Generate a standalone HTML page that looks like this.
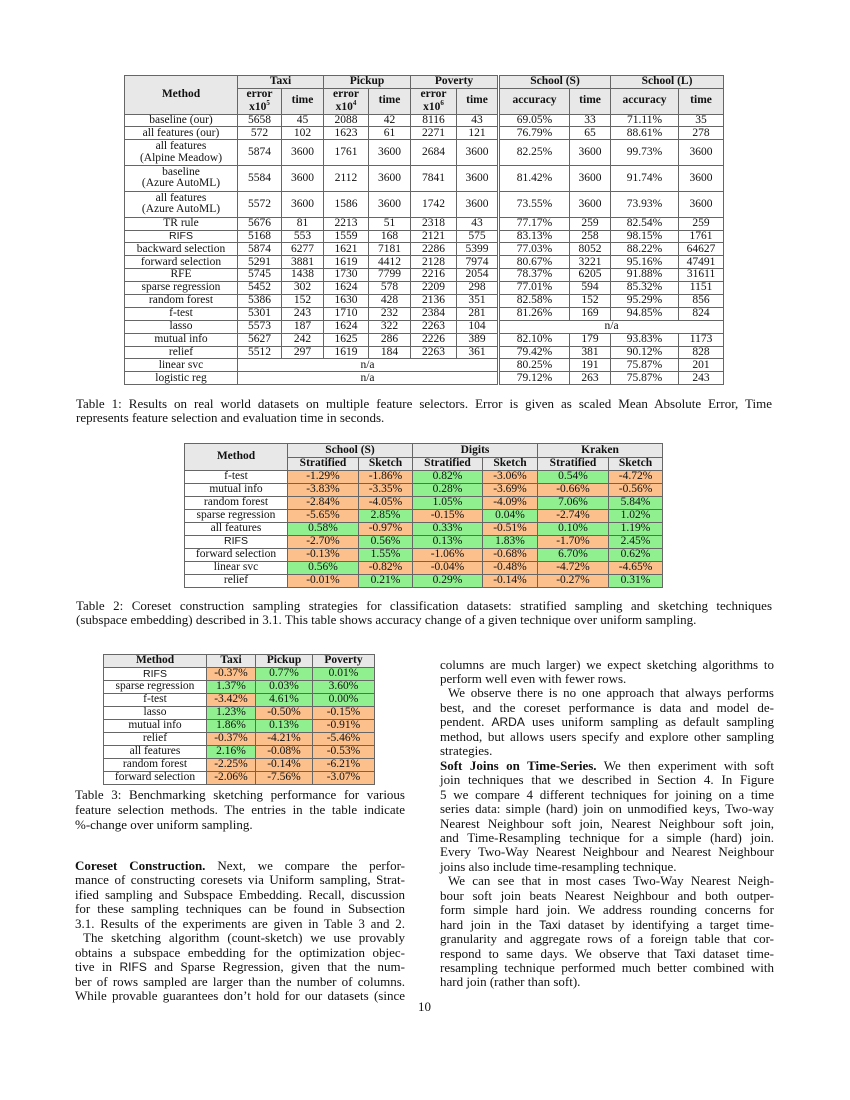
<!DOCTYPE html>
<html><head><meta charset="utf-8"><style>
body{margin:0;width:850px;height:1100px;background:#fff;position:relative;font-family:"Liberation Serif",serif;color:#111;overflow:hidden}
table{position:absolute;border-collapse:collapse;table-layout:fixed;font-size:11.5px;line-height:1}
td,th{border:1px solid #666;padding:0;text-align:center;overflow:hidden;white-space:nowrap}
th{background:#e8e8e8;font-weight:bold}
.g{background:#90f090}.o{background:#fbc08c}
.dl{border-left:3px double #666}
.sf{font-family:"Liberation Sans",sans-serif;font-size:10.5px}
.ln{position:absolute;font-size:13px;line-height:14px;white-space:nowrap}
.j{text-align:justify;text-align-last:justify;white-space:normal}
.cap{left:76px;width:696px}
.L{left:75px;width:330px}.R{left:440px;width:334px}
.t1 tr.s{height:12.9px}.t1 tr.d{height:25.8px}
.t2 tr.s{height:13px}
</style></head><body>

<table class="t1" style="left:124px;top:75px;width:599px">
<colgroup><col style="width:113px"><col style="width:44px"><col style="width:42px"><col style="width:45px"><col style="width:42px"><col style="width:46px"><col style="width:42px"><col style="width:71px"><col style="width:41px"><col style="width:68px"><col style="width:45px"></colgroup>
<tr style="height:12px"><th rowspan="2">Method</th><th colspan="2">Taxi</th><th colspan="2">Pickup</th><th colspan="2">Poverty</th><th colspan="2" class="dl">School (S)</th><th colspan="2">School (L)</th></tr>
<tr style="height:26px"><th>error<br>x10<sup style="font-size:7px">5</sup></th><th>time</th><th>error<br>x10<sup style="font-size:7px">4</sup></th><th>time</th><th>error<br>x10<sup style="font-size:7px">6</sup></th><th>time</th><th class="dl">accuracy</th><th>time</th><th>accuracy</th><th>time</th></tr>
<tr class="s"><td>baseline (our)</td><td>5658</td><td>45</td><td>2088</td><td>42</td><td>8116</td><td>43</td><td class="dl">69.05%</td><td>33</td><td>71.11%</td><td>35</td></tr>
<tr class="s"><td>all features (our)</td><td>572</td><td>102</td><td>1623</td><td>61</td><td>2271</td><td>121</td><td class="dl">76.79%</td><td>65</td><td>88.61%</td><td>278</td></tr>
<tr class="d"><td>all features<br>(Alpine Meadow)</td><td>5874</td><td>3600</td><td>1761</td><td>3600</td><td>2684</td><td>3600</td><td class="dl">82.25%</td><td>3600</td><td>99.73%</td><td>3600</td></tr>
<tr class="d"><td>baseline<br>(Azure AutoML)</td><td>5584</td><td>3600</td><td>2112</td><td>3600</td><td>7841</td><td>3600</td><td class="dl">81.42%</td><td>3600</td><td>91.74%</td><td>3600</td></tr>
<tr class="d"><td>all features<br>(Azure AutoML)</td><td>5572</td><td>3600</td><td>1586</td><td>3600</td><td>1742</td><td>3600</td><td class="dl">73.55%</td><td>3600</td><td>73.93%</td><td>3600</td></tr>
<tr class="s"><td>TR rule</td><td>5676</td><td>81</td><td>2213</td><td>51</td><td>2318</td><td>43</td><td class="dl">77.17%</td><td>259</td><td>82.54%</td><td>259</td></tr>
<tr class="s"><td class="sf">RIFS</td><td>5168</td><td>553</td><td>1559</td><td>168</td><td>2121</td><td>575</td><td class="dl">83.13%</td><td>258</td><td>98.15%</td><td>1761</td></tr>
<tr class="s"><td>backward selection</td><td>5874</td><td>6277</td><td>1621</td><td>7181</td><td>2286</td><td>5399</td><td class="dl">77.03%</td><td>8052</td><td>88.22%</td><td>64627</td></tr>
<tr class="s"><td>forward selection</td><td>5291</td><td>3881</td><td>1619</td><td>4412</td><td>2128</td><td>7974</td><td class="dl">80.67%</td><td>3221</td><td>95.16%</td><td>47491</td></tr>
<tr class="s"><td>RFE</td><td>5745</td><td>1438</td><td>1730</td><td>7799</td><td>2216</td><td>2054</td><td class="dl">78.37%</td><td>6205</td><td>91.88%</td><td>31611</td></tr>
<tr class="s"><td>sparse regression</td><td>5452</td><td>302</td><td>1624</td><td>578</td><td>2209</td><td>298</td><td class="dl">77.01%</td><td>594</td><td>85.32%</td><td>1151</td></tr>
<tr class="s"><td>random forest</td><td>5386</td><td>152</td><td>1630</td><td>428</td><td>2136</td><td>351</td><td class="dl">82.58%</td><td>152</td><td>95.29%</td><td>856</td></tr>
<tr class="s"><td>f-test</td><td>5301</td><td>243</td><td>1710</td><td>232</td><td>2384</td><td>281</td><td class="dl">81.26%</td><td>169</td><td>94.85%</td><td>824</td></tr>
<tr class="s"><td>lasso</td><td>5573</td><td>187</td><td>1624</td><td>322</td><td>2263</td><td>104</td><td colspan="4" class="dl">n/a</td></tr>
<tr class="s"><td>mutual info</td><td>5627</td><td>242</td><td>1625</td><td>286</td><td>2226</td><td>389</td><td class="dl">82.10%</td><td>179</td><td>93.83%</td><td>1173</td></tr>
<tr class="s"><td>relief</td><td>5512</td><td>297</td><td>1619</td><td>184</td><td>2263</td><td>361</td><td class="dl">79.42%</td><td>381</td><td>90.12%</td><td>828</td></tr>
<tr class="s"><td>linear svc</td><td colspan="6">n/a</td><td class="dl">80.25%</td><td>191</td><td>75.87%</td><td>201</td></tr>
<tr class="s"><td>logistic reg</td><td colspan="6">n/a</td><td class="dl">79.12%</td><td>263</td><td>75.87%</td><td>243</td></tr>
</table>

<div class="ln cap j" style="top:397px">Table 1: Results on real world datasets on multiple feature selectors. Error is given as scaled Mean Absolute Error, Time</div>
<div class="ln" style="top:411px;left:76px">represents feature selection and evaluation time in seconds.</div>

<table class="t2" style="left:184px;top:443px;width:478px">
<colgroup><col style="width:103px"><col style="width:71px"><col style="width:54px"><col style="width:70px"><col style="width:55px"><col style="width:71px"><col style="width:54px"></colgroup>
<tr style="height:14px"><th rowspan="2">Method</th><th colspan="2">School (S)</th><th colspan="2">Digits</th><th colspan="2">Kraken</th></tr>
<tr style="height:12px"><th>Stratified</th><th>Sketch</th><th>Stratified</th><th>Sketch</th><th>Stratified</th><th>Sketch</th></tr>
<tr class="s"><td>f-test</td><td class="o">-1.29%</td><td class="o">-1.86%</td><td class="g">0.82%</td><td class="o">-3.06%</td><td class="g">0.54%</td><td class="o">-4.72%</td></tr>
<tr class="s"><td>mutual info</td><td class="o">-3.83%</td><td class="o">-3.35%</td><td class="g">0.28%</td><td class="o">-3.69%</td><td class="o">-0.66%</td><td class="o">-0.56%</td></tr>
<tr class="s"><td>random forest</td><td class="o">-2.84%</td><td class="o">-4.05%</td><td class="g">1.05%</td><td class="o">-4.09%</td><td class="g">7.06%</td><td class="g">5.84%</td></tr>
<tr class="s"><td>sparse regression</td><td class="o">-5.65%</td><td class="g">2.85%</td><td class="o">-0.15%</td><td class="g">0.04%</td><td class="o">-2.74%</td><td class="g">1.02%</td></tr>
<tr class="s"><td>all features</td><td class="g">0.58%</td><td class="o">-0.97%</td><td class="g">0.33%</td><td class="o">-0.51%</td><td class="g">0.10%</td><td class="g">1.19%</td></tr>
<tr class="s"><td class="sf">RIFS</td><td class="o">-2.70%</td><td class="g">0.56%</td><td class="g">0.13%</td><td class="g">1.83%</td><td class="o">-1.70%</td><td class="g">2.45%</td></tr>
<tr class="s"><td>forward selection</td><td class="o">-0.13%</td><td class="g">1.55%</td><td class="o">-1.06%</td><td class="o">-0.68%</td><td class="g">6.70%</td><td class="g">0.62%</td></tr>
<tr class="s"><td>linear svc</td><td class="g">0.56%</td><td class="o">-0.82%</td><td class="o">-0.04%</td><td class="o">-0.48%</td><td class="o">-4.72%</td><td class="o">-4.65%</td></tr>
<tr class="s"><td>relief</td><td class="o">-0.01%</td><td class="g">0.21%</td><td class="g">0.29%</td><td class="o">-0.14%</td><td class="o">-0.27%</td><td class="g">0.31%</td></tr>
</table>

<div class="ln cap j" style="top:599px">Table 2: Coreset construction sampling strategies for classification datasets: stratified sampling and sketching techniques</div>
<div class="ln" style="top:613px;left:76px">(subspace embedding) described in 3.1. This table shows accuracy change of a given technique over uniform sampling.</div>

<table class="t2" style="left:103px;top:654px;width:271px">
<colgroup><col style="width:103px"><col style="width:49px"><col style="width:57px"><col style="width:62px"></colgroup>
<tr class="s"><th>Method</th><th>Taxi</th><th>Pickup</th><th>Poverty</th></tr>
<tr class="s"><td class="sf">RIFS</td><td class="o">-0.37%</td><td class="g">0.77%</td><td class="g">0.01%</td></tr>
<tr class="s"><td>sparse regression</td><td class="g">1.37%</td><td class="g">0.03%</td><td class="g">3.60%</td></tr>
<tr class="s"><td>f-test</td><td class="o">-3.42%</td><td class="g">4.61%</td><td class="g">0.00%</td></tr>
<tr class="s"><td>lasso</td><td class="g">1.23%</td><td class="o">-0.50%</td><td class="o">-0.15%</td></tr>
<tr class="s"><td>mutual info</td><td class="g">1.86%</td><td class="g">0.13%</td><td class="o">-0.91%</td></tr>
<tr class="s"><td>relief</td><td class="o">-0.37%</td><td class="o">-4.21%</td><td class="o">-5.46%</td></tr>
<tr class="s"><td>all features</td><td class="g">2.16%</td><td class="o">-0.08%</td><td class="o">-0.53%</td></tr>
<tr class="s"><td>random forest</td><td class="o">-2.25%</td><td class="o">-0.14%</td><td class="o">-6.21%</td></tr>
<tr class="s"><td>forward selection</td><td class="o">-2.06%</td><td class="o">-7.56%</td><td class="o">-3.07%</td></tr>
</table>

<div class="ln L j" style="top:788px">Table 3: Benchmarking sketching performance for various</div>
<div class="ln L j" style="top:803px">feature selection methods. The entries in the table indicate</div>
<div class="ln" style="top:818px;left:75px">%-change over uniform sampling.</div>

<div>
<div class="ln L j" style="top:859px"><b>Coreset Construction.</b> Next, we compare the perfor-</div>
<div class="ln L j" style="top:873px">mance of constructing coresets via Uniform sampling, Strat-</div>
<div class="ln L j" style="top:888px">ified sampling and Subspace Embedding. Recall, discussion</div>
<div class="ln L j" style="top:902px">for these sampling techniques can be found in Subsection</div>
<div class="ln L j" style="top:917px">3.1. Results of the experiments are given in Table 3 and 2.</div>
<div class="ln L j" style="top:931px;left:83px;width:322px">The sketching algorithm (count-sketch) we use provably</div>
<div class="ln L j" style="top:946px">obtains a subspace embedding for the optimization objec-</div>
<div class="ln L j" style="top:960px">tive in <span class="sf" style="font-size:12px">RIFS</span> and Sparse Regression, given that the num-</div>
<div class="ln L j" style="top:975px">ber of rows sampled are larger than the number of columns.</div>
<div class="ln L j" style="top:989px">While provable guarantees don’t hold for our datasets (since</div>
</div>

<div>
<div class="ln R j" style="top:658px">columns are much larger) we expect sketching algorithms to</div>
<div class="ln R" style="top:672px">perform well even with fewer rows.</div>
<div class="ln R j" style="top:686px;left:448px;width:326px">We observe there is no one approach that always performs</div>
<div class="ln R j" style="top:701px">best, and the coreset performance is data and model de-</div>
<div class="ln R j" style="top:715px">pendent. <span class="sf" style="font-size:12px">ARDA</span> uses uniform sampling as default sampling</div>
<div class="ln R j" style="top:730px">method, but allows users specify and explore other sampling</div>
<div class="ln R" style="top:744px">strategies.</div>
<div class="ln R j" style="top:759px"><b>Soft Joins on Time-Series.</b> We then experiment with soft</div>
<div class="ln R j" style="top:773px">join techniques that we described in Section 4. In Figure</div>
<div class="ln R j" style="top:788px">5 we compare 4 different techniques for joining on a time</div>
<div class="ln R j" style="top:802px">series data: simple (hard) join on unmodified keys, Two-way</div>
<div class="ln R j" style="top:817px">Nearest Neighbour soft join, Nearest Neighbour soft join,</div>
<div class="ln R j" style="top:831px">and Time-Resampling technique for a simple (hard) join.</div>
<div class="ln R j" style="top:845px">Every Two-Way Nearest Neighbour and Nearest Neighbour</div>
<div class="ln R" style="top:860px">joins also include time-resampling technique.</div>
<div class="ln R j" style="top:874px;left:448px;width:326px">We can see that in most cases Two-Way Nearest Neigh-</div>
<div class="ln R j" style="top:889px">bour soft join beats Nearest Neighbour and both outper-</div>
<div class="ln R j" style="top:903px">form simple hard join. We address rounding concerns for</div>
<div class="ln R j" style="top:918px">hard join in the <span class="sf" style="font-size:12px">Taxi</span> dataset by identifying a target time-</div>
<div class="ln R j" style="top:932px">granularity and aggregate rows of a foreign table that cor-</div>
<div class="ln R j" style="top:947px">respond to same days. We observe that <span class="sf" style="font-size:12px">Taxi</span> dataset time-</div>
<div class="ln R j" style="top:961px">resampling technique performed much better combined with</div>
<div class="ln R" style="top:975px">hard join (rather than soft).</div>
</div>

<div class="ln" style="top:1000px;left:418px">10</div>
</body></html>
